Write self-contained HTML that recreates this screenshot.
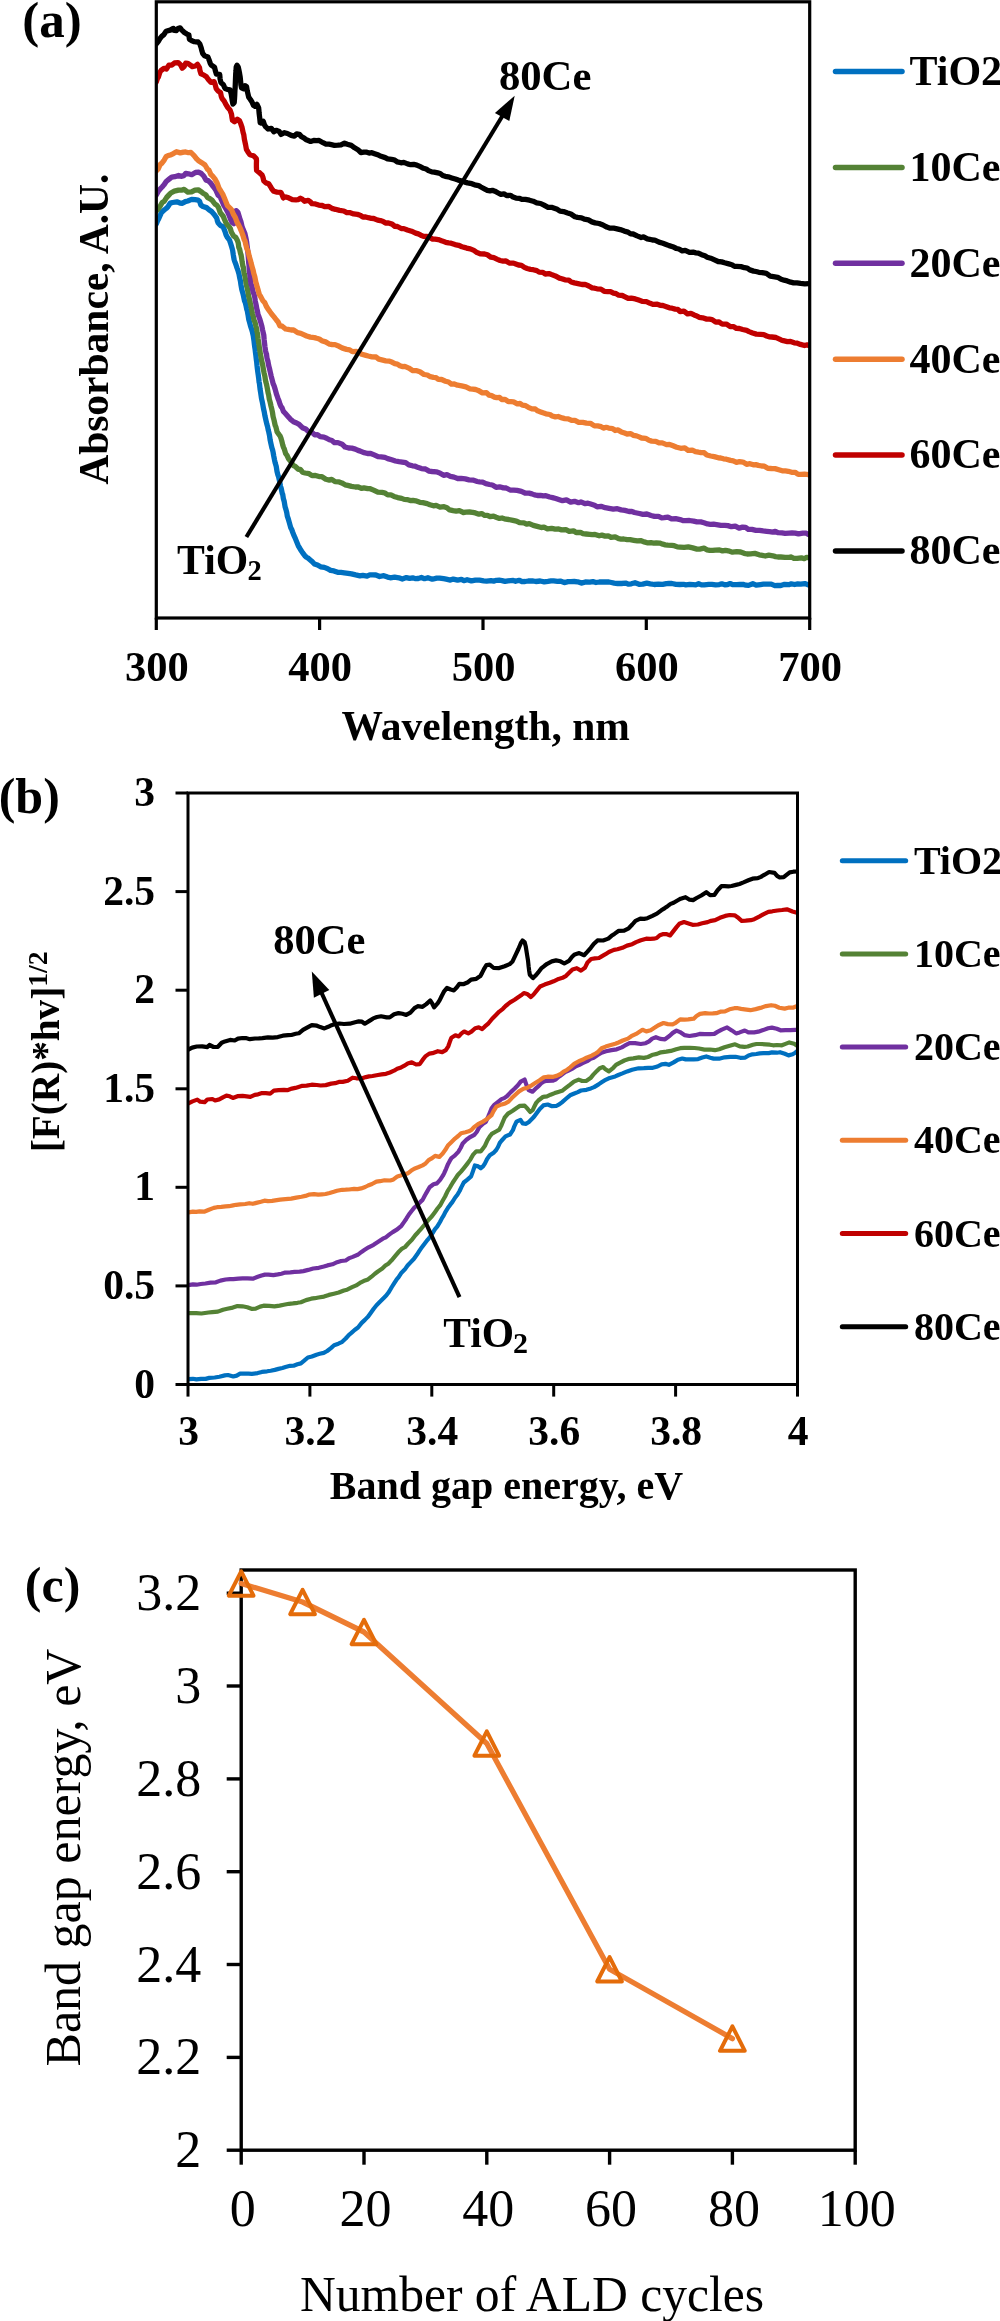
<!DOCTYPE html>
<html><head><meta charset="utf-8"><title>Figure</title>
<style>html,body{margin:0;padding:0;background:#fff;}body{width:1000px;height:2321px;overflow:hidden;font-family:"Liberation Serif",serif;}svg{display:block;will-change:transform;}</style>
</head><body>
<svg width="1000" height="2321" viewBox="0 0 1000 2321">
<rect width="1000" height="2321" fill="#fff"/>
<defs><clipPath id="ca"><rect x="156.3" y="1.8" width="653.4" height="616"/></clipPath><clipPath id="cb"><rect x="188" y="793" width="609.5" height="591.5"/></clipPath></defs>
<g id="pa">
<g clip-path="url(#ca)">
<path d="M156.3 224.0 L157.7 220.6 L158.7 218.7 L159.8 216.2 L161.4 212.6 L163.9 210.3 L166.4 208.3 L167.8 206.9 L170.2 203.1 L172.6 202.5 L176.9 201.8 L180.0 203.0 L182.4 203.3 L185.3 201.6 L187.8 201.0 L191.6 199.4 L195.1 199.7 L198.1 200.2 L199.6 201.3 L200.8 205.0 L203.0 206.5 L206.5 207.6 L209.0 209.7 L211.6 211.5 L214.2 214.4 L216.7 218.0 L217.5 221.3 L218.1 222.8 L220.3 225.4 L223.2 226.9 L225.0 231.4 L226.1 235.0 L227.4 237.4 L229.5 240.1 L230.7 243.7 L231.8 247.2 L232.6 250.1 L233.3 254.9 L234.1 259.5 L234.8 261.6 L235.9 264.5 L237.0 267.9 L237.9 270.2 L239.0 274.1 L239.6 277.4 L240.4 280.9 L241.0 285.0 L241.8 289.6 L242.7 292.7 L243.5 295.9 L244.6 301.1 L245.2 302.3 L245.9 305.1 L246.7 309.1 L247.3 310.8 L248.0 314.7 L248.7 319.2 L249.5 322.1 L250.5 325.9 L251.4 328.6 L252.5 332.3 L253.2 335.4 L253.6 338.1 L254.1 341.6 L254.4 344.4 L254.8 347.3 L255.1 349.2 L255.4 352.0 L255.8 355.0 L256.4 360.2 L256.7 362.2 L257.0 365.5 L257.4 368.9 L257.9 372.6 L258.3 375.3 L258.7 378.3 L259.1 382.1 L259.4 383.3 L260.0 388.5 L260.4 391.2 L260.8 393.6 L261.5 398.5 L262.1 401.1 L262.7 404.1 L263.5 408.6 L264.3 412.1 L264.9 415.7 L265.9 420.1 L266.8 424.0 L267.6 426.7 L268.3 430.3 L268.8 432.1 L269.5 435.4 L270.2 440.3 L270.9 443.5 L271.9 447.9 L272.5 449.6 L273.1 452.3 L273.7 455.8 L274.6 460.3 L275.3 463.3 L276.2 466.2 L277.0 471.3 L277.9 474.9 L278.7 477.1 L279.6 481.3 L280.5 486.3 L281.2 488.4 L282.2 493.2 L282.8 494.8 L283.4 498.8 L284.2 501.4 L285.1 506.9 L285.9 509.3 L286.7 512.4 L287.3 516.2 L288.3 519.0 L289.4 522.9 L290.7 527.6 L291.6 529.2 L292.6 532.0 L293.9 535.4 L295.2 538.1 L296.9 542.4 L298.3 545.8 L300.3 549.2 L302.7 552.9 L304.8 555.7 L306.5 557.3 L308.5 558.4 L311.7 561.2 L314.4 564.0 L317.5 565.0 L320.6 566.8 L324.4 567.4 L327.7 568.7 L330.6 570.4 L333.9 570.9 L337.7 572.3 L341.0 572.4 L344.3 572.8 L348.1 573.3 L351.5 573.9 L355.7 574.9 L359.9 575.8 L362.8 575.3 L367.1 576.1 L369.7 574.9 L373.0 574.9 L375.9 575.0 L379.6 576.5 L383.8 575.7 L387.6 577.1 L390.3 577.8 L394.6 577.1 L398.9 577.8 L402.3 579.0 L406.4 577.6 L409.6 578.3 L412.7 577.8 L415.7 578.7 L418.2 578.5 L421.4 577.5 L424.5 578.7 L427.9 577.7 L432.3 579.2 L436.7 578.1 L439.6 578.1 L443.5 578.7 L446.2 579.2 L450.4 580.1 L453.3 579.1 L457.6 580.1 L461.4 579.4 L463.9 580.7 L467.1 579.7 L471.4 580.9 L475.4 580.1 L479.5 580.2 L483.7 580.9 L486.7 581.1 L491.0 580.6 L493.7 581.1 L496.5 580.3 L499.2 580.2 L502.0 580.6 L505.0 581.4 L508.0 580.9 L510.7 580.6 L513.2 580.4 L515.6 581.3 L519.1 580.3 L522.4 581.7 L525.0 581.5 L528.3 581.0 L532.4 580.9 L535.8 581.5 L540.2 581.0 L544.2 581.8 L547.9 581.3 L551.0 580.8 L553.6 580.9 L557.5 581.3 L560.2 581.1 L564.3 582.6 L568.1 581.7 L571.0 581.7 L574.3 581.5 L577.6 581.8 L581.9 583.1 L585.4 581.9 L589.8 582.1 L592.9 581.6 L596.0 582.5 L599.4 582.0 L602.8 581.8 L605.7 582.0 L608.9 582.0 L611.4 582.5 L614.2 583.1 L617.7 583.5 L621.4 583.5 L625.6 583.1 L628.6 584.2 L631.3 583.8 L635.0 582.7 L639.1 584.3 L642.7 584.1 L646.8 583.1 L650.2 583.8 L654.3 584.5 L658.4 584.1 L662.6 584.4 L666.4 583.6 L668.8 583.5 L671.9 583.5 L676.0 584.4 L679.7 584.5 L683.4 584.3 L685.8 584.9 L689.7 584.4 L693.2 584.7 L695.7 584.9 L698.6 583.7 L701.5 584.9 L704.3 584.9 L708.7 584.4 L711.9 584.4 L715.6 584.9 L719.3 584.6 L721.8 583.8 L724.7 584.8 L727.7 584.5 L730.1 583.6 L733.0 584.7 L736.8 584.7 L739.8 584.5 L743.1 584.4 L745.8 585.2 L748.5 585.4 L752.8 583.7 L756.1 585.2 L760.5 584.6 L763.4 584.2 L767.7 584.2 L771.3 584.1 L774.8 585.6 L777.4 585.4 L780.8 585.5 L784.6 584.3 L788.8 584.7 L791.3 583.8 L794.7 584.5 L797.7 583.9 L800.7 584.2 L804.8 583.6 L808.7 585.0 L809.5 584.4" fill="none" stroke="#0070C0" stroke-width="5.3" stroke-linejoin="round" stroke-linecap="round"/>
<path d="M156.3 211.0 L158.2 209.0 L160.4 205.8 L162.2 202.5 L164.3 201.2 L166.7 197.4 L169.0 194.9 L170.8 193.0 L174.3 191.2 L178.5 190.2 L181.4 190.2 L184.1 189.4 L187.8 192.1 L191.5 191.9 L195.0 190.1 L198.3 189.8 L200.4 191.2 L203.0 193.2 L205.8 194.8 L207.6 197.6 L209.6 198.5 L212.0 200.2 L214.9 204.0 L217.0 205.4 L218.6 207.8 L219.4 210.1 L220.3 212.8 L223.2 216.3 L224.5 219.5 L226.0 222.8 L227.2 224.7 L229.1 226.7 L230.4 228.7 L231.3 232.0 L233.5 235.8 L235.8 237.5 L237.4 240.5 L238.2 242.9 L238.8 247.4 L239.6 249.1 L240.5 253.3 L241.1 255.0 L241.6 258.0 L242.2 262.3 L242.9 266.2 L243.3 267.0 L244.0 272.4 L244.7 275.1 L245.1 277.1 L245.9 282.0 L246.7 286.4 L247.2 287.6 L247.8 291.0 L248.5 295.5 L249.3 298.7 L250.0 302.2 L250.7 304.9 L251.6 309.2 L252.5 314.1 L253.2 316.1 L253.9 319.8 L255.1 322.5 L255.8 325.6 L256.6 328.8 L257.1 332.0 L257.5 333.8 L258.0 338.3 L258.5 341.8 L258.9 344.0 L259.4 348.1 L259.9 350.7 L260.3 353.5 L261.0 357.0 L261.5 360.3 L262.4 363.7 L262.9 366.3 L263.5 370.1 L264.1 373.1 L264.9 376.3 L265.4 379.9 L266.0 382.6 L266.5 384.3 L267.3 388.3 L268.1 392.9 L268.7 395.1 L269.3 399.1 L270.2 402.4 L270.9 405.6 L271.9 409.7 L272.4 412.0 L273.1 416.6 L274.1 420.4 L275.1 425.1 L275.8 426.7 L277.1 431.8 L278.3 433.7 L280.0 435.8 L281.0 438.3 L281.7 440.7 L282.7 444.9 L283.5 447.4 L284.3 449.0 L285.7 453.7 L287.0 455.3 L288.6 458.8 L291.1 461.9 L293.2 465.5 L295.0 466.2 L298.3 469.3 L300.3 469.3 L302.5 472.2 L305.2 473.0 L309.1 473.7 L312.0 475.6 L315.4 475.4 L319.1 476.6 L322.0 476.7 L325.8 479.2 L329.4 480.1 L331.7 479.4 L335.0 481.7 L339.1 481.9 L341.8 482.9 L345.1 484.8 L347.7 485.4 L351.5 486.4 L355.3 487.0 L358.3 487.0 L361.4 488.4 L363.9 487.8 L367.7 488.6 L370.2 488.7 L373.6 490.1 L377.8 492.2 L382.0 492.4 L384.5 492.8 L387.7 494.9 L390.9 494.9 L394.0 496.4 L397.7 497.6 L401.6 498.4 L404.2 499.4 L407.1 499.6 L410.2 500.6 L412.9 500.3 L415.7 500.8 L419.8 502.3 L422.8 502.6 L427.1 503.6 L429.9 504.7 L433.5 505.8 L436.1 505.4 L440.0 507.1 L444.1 506.7 L447.0 507.7 L449.6 509.9 L453.1 510.7 L456.2 511.2 L459.4 510.7 L463.4 512.5 L465.9 512.2 L469.5 512.0 L472.6 512.3 L475.4 512.9 L479.0 514.2 L481.7 513.6 L484.7 515.4 L487.4 515.3 L490.1 516.7 L493.6 516.1 L496.1 517.2 L499.5 518.4 L502.0 518.0 L505.8 519.2 L508.7 519.5 L512.9 520.4 L516.4 521.1 L519.6 522.7 L523.9 522.8 L526.6 524.1 L529.3 523.6 L533.3 525.4 L537.2 526.4 L541.3 527.5 L544.0 527.2 L547.4 528.9 L551.6 528.3 L555.3 529.1 L558.7 529.0 L561.6 529.9 L565.9 529.6 L569.2 531.3 L573.5 530.8 L576.1 532.5 L580.5 532.4 L582.9 533.6 L586.1 534.0 L589.7 534.4 L592.3 534.7 L595.1 534.4 L599.2 535.8 L601.9 535.1 L605.1 536.1 L608.2 535.8 L611.1 537.4 L615.2 536.8 L618.7 538.6 L621.2 539.1 L623.7 539.0 L627.2 539.6 L630.2 539.7 L633.7 540.3 L637.4 540.9 L640.6 540.6 L644.2 541.9 L647.1 542.8 L651.0 542.7 L653.7 543.1 L656.3 542.8 L659.6 543.1 L662.8 544.2 L665.3 544.8 L667.8 545.2 L671.7 545.4 L674.2 545.7 L677.3 546.9 L679.9 547.1 L684.3 547.4 L688.3 546.9 L692.7 547.9 L697.0 549.1 L699.7 549.1 L704.0 548.2 L707.1 549.8 L709.7 550.3 L712.7 550.4 L715.3 550.1 L719.6 550.0 L722.5 550.9 L725.5 550.3 L728.2 550.8 L732.5 552.2 L736.7 551.7 L740.6 552.0 L744.1 553.3 L747.2 554.0 L750.7 553.8 L754.8 553.4 L759.2 554.8 L762.4 555.4 L765.3 556.0 L768.8 555.2 L772.8 555.8 L775.5 556.6 L777.9 557.0 L780.8 557.0 L785.2 557.3 L788.9 557.3 L791.3 557.0 L793.9 558.3 L797.2 558.4 L801.4 557.8 L804.2 558.7 L806.7 557.3 L809.5 558.0" fill="none" stroke="#548235" stroke-width="5.3" stroke-linejoin="round" stroke-linecap="round"/>
<path d="M156.3 195.0 L158.2 191.5 L160.0 189.1 L162.1 187.0 L163.9 184.9 L166.2 181.5 L169.4 178.9 L171.7 177.1 L174.8 176.7 L178.6 175.5 L181.0 176.3 L183.9 175.6 L185.7 173.3 L188.5 173.8 L191.7 174.7 L195.4 172.5 L198.6 172.2 L200.9 173.2 L203.7 176.0 L206.1 180.1 L208.1 180.6 L211.0 183.4 L213.3 186.7 L214.6 188.3 L216.0 190.4 L218.2 195.3 L220.3 197.1 L222.4 202.0 L223.7 205.0 L225.0 207.1 L226.3 209.4 L227.5 211.7 L229.3 215.8 L230.8 219.7 L232.0 222.1 L234.0 223.7 L234.8 219.4 L235.3 217.0 L235.7 214.1 L236.2 210.6 L237.9 212.4 L239.2 216.5 L240.1 219.7 L240.9 221.5 L242.0 226.3 L243.3 229.9 L244.9 233.6 L245.9 238.0 L246.6 241.6 L247.1 245.7 L247.4 248.0 L247.8 251.4 L248.2 255.7 L248.4 258.1 L248.7 262.8 L249.0 264.9 L249.2 268.5 L249.5 272.2 L249.9 274.9 L250.4 279.0 L251.0 283.8 L252.0 286.5 L253.1 292.1 L254.2 294.8 L254.8 297.5 L255.3 301.2 L256.1 304.8 L256.8 308.8 L257.4 310.8 L258.0 314.5 L258.8 316.4 L259.7 318.9 L260.7 322.1 L261.8 326.0 L262.6 330.0 L263.3 333.1 L263.8 335.2 L264.1 339.2 L264.5 342.9 L265.0 347.1 L265.5 350.4 L266.0 352.9 L266.5 354.1 L267.0 358.2 L267.9 361.1 L268.6 365.3 L269.5 368.6 L270.3 372.2 L271.2 376.1 L272.3 380.3 L273.1 383.7 L274.1 385.9 L275.2 389.4 L276.5 394.2 L277.8 397.9 L278.8 400.4 L280.0 404.2 L281.0 406.6 L282.0 407.6 L283.4 411.4 L285.2 413.3 L287.8 416.3 L290.3 419.1 L293.5 421.7 L296.6 423.0 L299.1 424.4 L302.4 427.7 L305.7 429.0 L308.5 431.7 L311.7 432.1 L314.7 434.8 L317.4 434.6 L320.2 436.6 L324.0 437.1 L326.6 438.2 L329.4 439.8 L331.9 440.5 L334.5 442.7 L338.0 442.6 L342.1 444.2 L345.0 447.0 L348.7 448.0 L351.8 448.1 L355.3 449.1 L358.0 450.4 L360.3 451.1 L364.2 452.7 L367.5 453.5 L370.7 453.5 L374.2 454.9 L378.0 456.7 L381.1 456.8 L384.9 457.4 L387.7 458.6 L391.7 459.8 L395.4 461.0 L399.0 461.7 L402.2 462.1 L405.7 462.7 L408.8 464.9 L412.4 465.8 L415.2 466.2 L418.4 467.6 L421.4 468.6 L425.5 469.0 L429.1 471.1 L432.1 471.5 L436.3 471.8 L439.7 472.9 L443.6 475.3 L446.9 474.6 L450.4 476.3 L454.1 477.1 L457.7 478.5 L461.1 478.4 L465.3 478.9 L469.0 479.9 L472.9 480.1 L477.2 481.5 L479.6 481.9 L482.7 482.2 L485.8 483.7 L489.5 484.5 L492.4 485.0 L496.1 487.3 L499.5 486.8 L503.4 487.9 L506.2 488.0 L510.1 490.0 L513.7 490.1 L517.1 490.4 L521.4 491.4 L525.0 493.0 L529.0 493.1 L531.9 493.9 L534.5 494.9 L537.5 495.5 L540.4 495.3 L543.2 495.9 L545.9 495.7 L549.7 497.0 L552.5 497.6 L555.8 498.5 L559.4 499.7 L562.5 500.7 L566.5 499.9 L570.6 502.1 L574.5 501.3 L578.5 502.7 L580.9 501.9 L585.2 503.7 L588.0 503.2 L590.7 504.0 L594.5 505.2 L597.1 506.8 L601.0 506.3 L605.2 507.7 L609.1 508.4 L613.3 509.2 L617.3 508.7 L621.1 509.9 L624.9 510.4 L629.0 511.5 L631.9 511.5 L634.5 512.5 L636.9 513.0 L639.5 513.5 L642.9 514.3 L646.9 514.0 L651.0 515.5 L654.5 516.4 L658.5 516.4 L661.7 517.9 L664.2 517.7 L667.9 517.1 L671.5 518.8 L675.7 518.7 L680.1 519.6 L683.4 520.7 L685.8 520.7 L689.5 520.5 L693.6 521.1 L696.9 521.9 L700.8 521.9 L704.0 522.7 L707.5 523.9 L710.4 524.3 L713.6 524.2 L716.5 524.6 L720.9 525.4 L724.8 525.3 L727.8 525.6 L731.4 526.7 L735.3 526.1 L739.1 528.1 L742.6 527.1 L745.6 527.4 L748.3 529.4 L751.9 529.4 L755.9 530.4 L759.5 530.3 L763.1 530.9 L766.7 531.3 L769.5 531.6 L772.8 532.1 L775.3 531.4 L777.8 532.7 L782.0 532.8 L785.1 533.3 L789.1 533.1 L792.0 532.9 L795.2 533.1 L798.5 533.9 L802.8 533.1 L806.3 533.2 L808.9 534.7 L809.5 534.2" fill="none" stroke="#7030A0" stroke-width="5.3" stroke-linejoin="round" stroke-linecap="round"/>
<path d="M156.3 171.0 L158.2 169.0 L160.1 164.6 L161.9 163.1 L164.2 160.1 L166.2 156.4 L168.4 155.6 L171.2 154.7 L173.4 153.6 L176.5 151.7 L180.3 152.9 L183.6 152.1 L185.7 152.0 L188.5 152.7 L191.0 152.5 L194.3 155.8 L196.8 159.1 L198.6 160.7 L201.7 162.7 L205.0 165.0 L207.6 169.3 L208.9 170.0 L210.9 174.6 L212.3 175.8 L214.7 178.6 L216.9 182.6 L217.8 184.8 L219.0 188.2 L220.8 191.0 L223.0 194.7 L224.6 198.6 L225.7 201.2 L227.5 205.7 L230.0 208.1 L231.5 209.7 L233.6 214.7 L235.4 217.7 L237.0 222.1 L238.7 225.1 L239.9 227.6 L241.5 231.4 L242.9 235.3 L244.2 239.7 L245.0 241.0 L245.8 244.6 L246.8 248.7 L248.1 251.4 L249.3 256.6 L250.4 260.2 L251.2 263.5 L252.2 267.1 L253.2 270.6 L253.8 273.5 L254.8 276.7 L255.8 281.9 L256.4 284.0 L257.3 287.4 L258.1 289.8 L259.3 294.5 L260.5 296.3 L262.9 300.7 L264.7 302.6 L266.6 306.8 L268.2 309.2 L270.0 311.8 L271.6 314.0 L274.2 317.1 L276.4 320.0 L278.3 322.3 L279.9 325.8 L282.2 326.2 L285.6 329.0 L288.2 329.4 L291.1 330.0 L293.5 329.8 L297.6 332.7 L300.8 333.3 L303.6 334.6 L306.6 336.0 L310.3 337.1 L314.4 337.6 L316.7 338.3 L319.3 339.0 L321.7 340.7 L325.6 341.9 L329.6 344.2 L332.0 344.5 L335.0 344.6 L339.1 346.3 L342.5 348.1 L346.6 349.4 L349.7 349.9 L352.3 351.6 L356.5 351.5 L358.9 352.2 L361.8 354.3 L365.9 355.4 L368.3 356.0 L371.9 356.8 L376.1 357.0 L378.7 359.1 L382.8 360.1 L385.7 360.8 L389.4 361.1 L392.3 362.3 L394.8 363.6 L397.4 364.1 L399.9 365.8 L402.2 366.6 L404.8 366.3 L408.8 368.1 L412.9 370.7 L416.8 370.7 L419.9 371.7 L424.0 374.5 L427.4 375.0 L430.3 376.7 L433.5 377.4 L436.0 377.6 L438.3 379.3 L441.6 379.5 L445.5 381.2 L448.6 382.0 L451.4 384.2 L454.3 384.0 L457.5 385.2 L461.6 385.9 L465.9 386.8 L470.0 388.8 L472.7 389.1 L475.6 389.5 L478.2 390.4 L482.4 392.9 L486.5 392.7 L489.2 395.2 L491.6 395.7 L494.4 397.2 L496.7 397.7 L499.6 397.5 L501.8 399.5 L505.1 399.3 L508.3 401.6 L511.0 401.7 L513.6 401.8 L517.3 403.8 L520.0 403.5 L522.4 405.2 L525.7 405.7 L528.3 407.3 L531.9 408.9 L535.3 409.0 L537.6 410.8 L540.6 411.9 L543.0 412.8 L545.9 413.8 L549.9 414.5 L552.2 416.0 L555.4 416.9 L558.2 416.5 L562.1 417.9 L564.7 418.6 L568.2 418.8 L571.6 420.4 L574.9 420.4 L578.7 422.4 L582.8 422.3 L586.5 423.1 L590.4 423.3 L594.4 425.9 L597.7 425.9 L601.1 426.7 L603.4 428.1 L606.2 427.3 L608.7 428.1 L612.6 428.6 L615.1 430.5 L617.8 429.9 L621.3 431.9 L624.6 433.0 L627.1 434.0 L630.8 433.7 L633.3 435.3 L636.5 435.9 L639.1 436.9 L641.6 438.0 L645.6 438.3 L649.0 440.3 L651.7 441.1 L655.8 441.3 L659.0 442.9 L662.3 442.9 L666.5 444.6 L669.5 444.4 L672.5 445.5 L676.7 447.2 L680.8 448.3 L684.8 447.9 L688.1 450.4 L692.3 450.1 L695.4 451.6 L698.5 452.2 L700.9 452.6 L704.2 452.7 L706.8 455.0 L710.7 456.0 L714.2 456.6 L718.3 457.8 L720.6 458.0 L723.5 458.8 L726.3 459.2 L730.5 460.4 L733.3 460.8 L736.5 462.3 L739.4 461.7 L743.0 462.1 L746.6 464.3 L749.9 463.7 L753.2 464.8 L755.8 464.6 L758.4 465.4 L761.6 466.0 L764.4 466.2 L767.8 468.3 L771.4 468.5 L775.0 468.6 L778.8 469.8 L782.2 470.8 L785.4 470.9 L788.3 471.3 L791.6 472.3 L795.1 472.3 L798.2 474.4 L801.0 474.3 L804.4 474.2 L808.7 474.7 L809.5 475.2" fill="none" stroke="#ED7D31" stroke-width="5.3" stroke-linejoin="round" stroke-linecap="round"/>
<path d="M156.3 82.0 L157.5 78.2 L158.4 77.1 L159.7 72.7 L161.0 70.5 L164.2 68.3 L166.4 69.1 L168.9 65.1 L171.9 65.1 L174.5 62.9 L178.1 62.6 L180.5 64.7 L182.2 68.2 L184.1 66.5 L185.7 63.2 L187.9 63.3 L189.7 64.6 L192.3 66.6 L195.5 66.0 L197.5 64.4 L199.5 67.6 L199.9 70.4 L201.0 73.9 L203.5 74.9 L206.4 76.8 L208.5 79.7 L211.0 82.3 L214.1 81.7 L215.1 84.4 L216.2 88.6 L218.0 90.9 L220.5 92.4 L221.3 96.6 L222.0 98.3 L224.2 101.1 L225.7 104.1 L227.8 107.5 L230.0 110.0 L231.5 114.1 L232.0 117.8 L232.5 120.4 L234.5 121.7 L237.3 119.2 L239.5 120.7 L240.9 124.1 L242.1 127.7 L243.1 132.5 L243.8 134.8 L244.4 139.4 L244.9 141.6 L245.6 144.9 L246.4 149.3 L248.1 152.2 L249.9 154.7 L253.4 155.7 L256.3 158.6 L256.5 160.5 L256.4 164.1 L256.4 167.0 L256.6 170.5 L259.0 172.3 L262.2 175.3 L262.9 177.2 L263.8 180.9 L265.9 182.9 L268.8 183.8 L270.5 186.6 L271.7 188.8 L273.7 191.2 L277.0 192.1 L280.8 192.3 L282.0 194.5 L283.3 197.9 L285.9 196.9 L288.6 197.8 L292.3 199.6 L296.1 199.8 L298.0 199.7 L300.4 198.2 L302.5 199.4 L304.6 201.3 L308.1 200.4 L310.3 201.7 L312.0 203.7 L315.3 203.9 L318.7 205.1 L322.2 205.5 L324.6 206.6 L328.6 206.4 L332.6 208.7 L335.4 209.3 L339.6 210.4 L343.8 211.0 L346.8 212.6 L349.6 212.6 L353.6 213.9 L357.5 214.4 L360.2 215.2 L362.9 217.0 L365.7 217.0 L368.3 217.7 L371.3 218.3 L373.7 218.5 L377.6 220.1 L380.4 220.6 L383.2 221.5 L385.5 223.0 L388.5 223.0 L392.1 224.1 L394.9 226.4 L397.4 226.5 L401.2 228.5 L403.8 228.6 L407.4 230.0 L411.5 231.2 L415.6 233.1 L418.3 233.9 L420.8 235.2 L423.6 236.4 L427.0 236.5 L429.8 237.7 L432.5 239.0 L435.0 239.1 L438.3 239.6 L442.1 240.9 L445.7 242.3 L448.6 242.9 L451.0 243.2 L455.0 244.6 L458.6 245.3 L461.9 246.7 L465.2 247.6 L467.6 248.4 L470.3 248.9 L473.9 250.4 L477.0 252.6 L480.7 253.9 L484.6 254.0 L487.4 254.8 L490.9 257.2 L493.8 257.7 L497.4 259.4 L500.1 260.5 L503.1 261.1 L505.7 260.9 L509.8 263.2 L513.5 263.1 L515.8 264.0 L518.5 265.0 L521.5 265.4 L524.4 267.4 L527.1 268.5 L530.5 269.3 L533.2 269.7 L536.8 270.6 L539.1 272.1 L542.9 272.3 L545.3 274.0 L548.8 273.6 L551.5 274.6 L555.3 275.9 L559.4 278.1 L561.8 278.7 L564.9 279.8 L568.8 280.1 L571.2 282.0 L574.4 282.9 L578.0 283.6 L581.9 284.5 L585.1 284.3 L588.8 286.0 L592.1 287.8 L594.6 288.2 L597.0 288.8 L600.9 289.1 L604.2 291.3 L607.8 291.6 L610.5 291.6 L613.5 293.1 L616.2 293.7 L618.7 295.2 L622.3 295.5 L625.1 296.8 L628.2 298.4 L631.2 298.1 L635.3 298.9 L638.7 300.1 L642.6 301.4 L646.4 301.6 L650.1 303.3 L653.3 304.4 L657.3 304.2 L660.1 305.3 L662.9 305.5 L665.7 306.4 L669.4 307.8 L672.0 308.2 L675.2 309.1 L677.8 309.3 L680.1 311.7 L683.9 311.1 L687.5 313.9 L690.9 313.3 L694.1 314.9 L696.8 315.9 L699.1 317.3 L702.6 317.8 L706.7 319.1 L709.5 319.2 L712.1 319.6 L715.8 322.2 L718.7 321.8 L722.2 324.1 L726.3 324.1 L730.1 326.5 L733.8 326.7 L736.5 328.4 L739.4 328.5 L742.7 329.5 L746.7 330.4 L749.0 331.6 L752.6 333.0 L756.3 334.1 L760.5 334.4 L763.8 334.6 L766.7 336.0 L769.1 336.8 L771.8 337.0 L776.0 337.5 L778.4 338.7 L781.1 339.9 L783.4 340.7 L787.4 341.6 L790.5 341.5 L794.2 342.8 L797.3 343.2 L800.5 344.4 L804.5 345.5 L807.2 344.9 L809.5 345.6" fill="none" stroke="#C00000" stroke-width="5.3" stroke-linejoin="round" stroke-linecap="round"/>
<path d="M156.3 44.0 L158.3 41.4 L160.2 38.2 L161.7 36.4 L163.6 34.9 L166.1 31.3 L170.2 30.1 L173.3 28.4 L174.4 30.4 L176.4 30.6 L177.8 28.5 L180.1 27.9 L181.6 29.9 L184.4 32.5 L186.9 34.1 L188.9 35.0 L189.4 39.2 L191.9 40.8 L194.3 41.7 L195.8 41.8 L198.1 42.0 L199.7 43.7 L201.2 47.8 L201.9 50.8 L202.7 53.5 L204.6 55.8 L207.9 57.0 L209.4 60.7 L210.1 62.9 L211.2 65.0 L214.5 67.2 L215.5 71.3 L216.4 74.1 L219.7 74.4 L220.1 79.0 L220.9 82.5 L223.4 84.7 L224.4 87.1 L225.2 88.5 L227.3 89.4 L230.0 89.8 L231.1 93.4 L231.7 97.0 L232.2 100.5 L232.9 104.1 L234.2 102.5 L234.5 99.0 L234.7 95.7 L234.9 90.6 L235.1 88.6 L235.3 84.2 L235.4 81.5 L235.5 78.9 L235.7 74.1 L236.0 70.8 L236.2 67.1 L237.0 65.2 L238.3 67.2 L238.8 69.5 L239.6 73.6 L240.2 77.2 L240.6 81.2 L240.9 84.7 L241.5 87.8 L243.7 88.8 L245.0 85.7 L246.5 86.5 L247.3 91.1 L247.6 92.4 L248.7 97.2 L250.4 99.5 L252.1 102.2 L253.4 105.2 L255.0 106.3 L256.9 104.3 L258.6 107.6 L258.8 109.3 L259.1 112.9 L259.5 116.3 L259.8 118.7 L260.2 122.8 L261.3 123.1 L263.3 121.4 L264.5 125.0 L265.8 126.9 L268.1 129.0 L271.3 128.3 L273.8 131.8 L276.1 130.3 L279.3 131.5 L281.0 134.4 L284.5 132.7 L287.4 133.5 L291.2 135.4 L294.4 136.2 L296.6 133.9 L299.4 134.4 L301.4 136.6 L303.8 137.8 L306.4 139.8 L310.6 141.4 L313.7 140.4 L316.5 140.7 L319.1 140.5 L323.0 142.7 L326.0 144.2 L328.9 144.2 L331.4 144.7 L334.4 145.3 L337.9 145.2 L341.0 144.8 L344.5 143.1 L347.3 144.3 L351.3 145.4 L354.6 147.8 L357.9 149.7 L360.9 152.7 L363.7 152.2 L366.1 152.1 L369.1 153.1 L371.9 152.7 L374.6 153.7 L378.5 155.1 L381.1 156.3 L385.2 157.6 L387.6 158.9 L391.5 159.4 L394.1 159.8 L397.4 161.9 L401.0 162.8 L403.8 162.4 L407.6 163.9 L410.7 164.7 L413.7 164.3 L416.8 165.1 L420.3 166.7 L423.5 168.3 L426.2 169.0 L428.5 170.6 L431.8 171.9 L434.1 172.1 L437.8 172.9 L440.2 173.5 L442.7 175.5 L445.2 176.3 L448.3 176.8 L451.7 177.9 L455.3 179.0 L458.2 180.1 L461.0 180.8 L464.8 182.1 L467.6 182.9 L471.8 183.7 L474.6 184.8 L478.6 185.6 L480.9 187.0 L484.4 188.8 L487.3 190.3 L490.0 190.8 L492.4 190.3 L494.9 191.2 L498.2 193.0 L500.9 194.4 L503.9 193.8 L506.6 195.5 L510.7 195.4 L513.1 197.1 L515.9 198.1 L519.2 198.3 L522.2 199.4 L525.4 199.4 L529.4 200.2 L533.1 201.2 L536.7 202.9 L540.6 203.5 L544.0 205.2 L548.1 207.4 L551.5 207.3 L554.3 208.3 L557.3 209.3 L560.0 211.2 L563.5 211.6 L567.6 213.0 L570.9 214.0 L574.9 216.7 L577.6 217.4 L581.5 217.8 L584.4 219.2 L588.4 219.9 L591.9 221.9 L595.1 222.9 L599.1 223.5 L603.0 225.0 L606.8 227.1 L609.5 228.0 L613.7 228.2 L616.0 228.6 L620.2 229.6 L624.3 231.1 L628.0 232.1 L630.6 233.9 L633.1 234.0 L637.1 235.9 L641.2 237.5 L643.5 236.9 L647.3 238.9 L649.7 239.3 L652.4 240.0 L654.8 240.1 L659.0 242.1 L662.9 243.2 L666.1 244.4 L669.1 245.6 L672.7 246.7 L676.4 248.5 L678.9 249.0 L682.2 250.8 L685.2 250.3 L689.5 252.4 L693.2 252.2 L695.9 252.8 L698.3 253.1 L701.6 254.7 L704.9 255.8 L707.2 257.2 L710.7 258.2 L714.0 259.7 L718.1 261.5 L721.7 261.9 L724.6 262.8 L728.8 263.9 L731.9 264.7 L734.5 266.4 L736.8 266.3 L741.0 266.6 L744.5 267.7 L747.3 268.1 L749.8 269.9 L753.6 271.1 L756.0 271.5 L758.9 272.3 L762.3 272.7 L766.4 273.4 L770.2 276.1 L773.4 276.6 L777.7 277.3 L781.1 279.3 L784.1 280.2 L787.2 280.9 L790.7 282.2 L793.6 282.9 L797.0 282.9 L800.6 283.4 L804.8 283.8 L808.7 283.7 L809.5 283.7" fill="none" stroke="#000000" stroke-width="5.3" stroke-linejoin="round" stroke-linecap="round"/>
</g>
<rect x="156.3" y="1.8" width="653.4" height="616.2" fill="none" stroke="#000" stroke-width="3.2"/>
<line x1="156.3" y1="617.8" x2="156.3" y2="630" stroke="#000" stroke-width="3.2"/>
<text x="156.8" y="680.8" font-family="Liberation Serif, serif" font-weight="bold" font-size="42.5" text-anchor="middle">300</text>
<line x1="319.6" y1="617.8" x2="319.6" y2="630" stroke="#000" stroke-width="3.2"/>
<text x="320.1" y="680.8" font-family="Liberation Serif, serif" font-weight="bold" font-size="42.5" text-anchor="middle">400</text>
<line x1="483.0" y1="617.8" x2="483.0" y2="630" stroke="#000" stroke-width="3.2"/>
<text x="483.5" y="680.8" font-family="Liberation Serif, serif" font-weight="bold" font-size="42.5" text-anchor="middle">500</text>
<line x1="646.3" y1="617.8" x2="646.3" y2="630" stroke="#000" stroke-width="3.2"/>
<text x="646.8" y="680.8" font-family="Liberation Serif, serif" font-weight="bold" font-size="42.5" text-anchor="middle">600</text>
<line x1="809.7" y1="617.8" x2="809.7" y2="630" stroke="#000" stroke-width="3.2"/>
<text x="810.2" y="680.8" font-family="Liberation Serif, serif" font-weight="bold" font-size="42.5" text-anchor="middle">700</text>
<text x="485.7" y="740" font-family="Liberation Serif, serif" font-weight="bold" font-size="41.5" text-anchor="middle">Wavelength, nm</text>
<text transform="translate(107.8 329.2) rotate(-90)" font-family="Liberation Serif, serif" font-weight="bold" font-size="41.5" text-anchor="middle">Absorbance, A.U.</text>
<text x="22.3" y="37.4" font-family="Liberation Serif, serif" font-weight="bold" font-size="51">(a)</text>
<line x1="246.4" y1="537" x2="503" y2="115" stroke="#000" stroke-width="4.1"/>
<polygon points="514.7,95.8 494.9,112.9 509.3,121" fill="#000"/>
<text x="498.9" y="89.8" font-family="Liberation Serif, serif" font-weight="bold" font-size="42.7">80Ce</text>
<text x="177.1" y="573.8" font-family="Liberation Serif, serif" font-weight="bold" font-size="41.7">TiO</text>
<text x="247.6" y="579.8" font-family="Liberation Serif, serif" font-weight="bold" font-size="28.5">2</text>
<line x1="835.5" y1="71.5" x2="902" y2="71.5" stroke="#0070C0" stroke-width="5.5" stroke-linecap="round"/>
<text x="909.5" y="84.8" font-family="Liberation Serif, serif" font-weight="bold" font-size="42">TiO2</text>
<line x1="835.5" y1="167.4" x2="902" y2="167.4" stroke="#548235" stroke-width="5.5" stroke-linecap="round"/>
<text x="909.5" y="180.7" font-family="Liberation Serif, serif" font-weight="bold" font-size="42">10Ce</text>
<line x1="835.5" y1="263.3" x2="902" y2="263.3" stroke="#7030A0" stroke-width="5.5" stroke-linecap="round"/>
<text x="909.5" y="276.6" font-family="Liberation Serif, serif" font-weight="bold" font-size="42">20Ce</text>
<line x1="835.5" y1="359.2" x2="902" y2="359.2" stroke="#ED7D31" stroke-width="5.5" stroke-linecap="round"/>
<text x="909.5" y="372.5" font-family="Liberation Serif, serif" font-weight="bold" font-size="42">40Ce</text>
<line x1="835.5" y1="455.1" x2="902" y2="455.1" stroke="#C00000" stroke-width="5.5" stroke-linecap="round"/>
<text x="909.5" y="468.4" font-family="Liberation Serif, serif" font-weight="bold" font-size="42">60Ce</text>
<line x1="835.5" y1="551.0" x2="902" y2="551.0" stroke="#000000" stroke-width="5.5" stroke-linecap="round"/>
<text x="909.5" y="564.3" font-family="Liberation Serif, serif" font-weight="bold" font-size="42">80Ce</text>
</g>
<g id="pb">
<g clip-path="url(#cb)">
<path d="M188.4 1379.2 L192.9 1378.8 L196.4 1379.4 L201.0 1378.9 L205.6 1378.9 L209.3 1377.9 L214.7 1377.5 L219.4 1376.7 L224.8 1375.4 L228.0 1375.0 L233.3 1376.5 L236.7 1375.6 L240.1 1373.7 L244.0 1373.5 L248.5 1373.7 L251.9 1373.8 L257.7 1373.1 L261.9 1371.9 L267.1 1371.3 L270.7 1370.7 L274.8 1369.9 L278.5 1368.9 L282.4 1368.0 L285.5 1367.0 L290.1 1365.8 L293.6 1365.7 L297.4 1364.3 L300.9 1363.4 L303.6 1361.2 L307.9 1357.5 L311.9 1356.5 L316.5 1354.7 L319.7 1353.8 L323.7 1352.9 L327.2 1351.0 L330.9 1348.1 L334.1 1345.2 L338.4 1343.7 L341.7 1342.2 L345.7 1338.5 L349.0 1334.8 L351.4 1332.9 L354.6 1330.0 L358.0 1327.5 L361.7 1322.9 L364.9 1319.9 L367.8 1316.9 L370.5 1313.2 L373.7 1308.7 L376.5 1305.2 L380.2 1301.6 L384.0 1297.8 L386.2 1295.6 L388.9 1292.0 L391.8 1287.0 L393.8 1283.8 L396.7 1279.3 L398.6 1277.1 L401.5 1272.7 L404.7 1269.6 L407.6 1265.5 L410.8 1262.1 L413.8 1259.0 L417.0 1254.6 L419.2 1251.2 L421.9 1247.2 L425.3 1242.8 L427.6 1239.8 L429.9 1237.2 L432.6 1233.1 L435.0 1229.1 L437.2 1226.6 L440.0 1222.0 L442.0 1218.1 L443.6 1215.6 L445.5 1211.8 L447.8 1208.1 L450.1 1204.9 L452.3 1202.1 L455.2 1197.5 L457.4 1194.7 L459.6 1191.0 L461.4 1187.1 L463.8 1182.5 L467.4 1179.6 L471.1 1176.4 L473.0 1171.1 L474.9 1165.5 L478.2 1166.4 L480.8 1168.3 L483.2 1166.1 L485.0 1163.3 L487.1 1159.0 L489.8 1155.3 L494.0 1152.4 L496.2 1150.0 L498.0 1147.0 L499.8 1142.9 L501.5 1140.7 L505.5 1136.4 L510.0 1134.5 L512.9 1130.2 L514.3 1126.3 L516.5 1121.7 L520.5 1119.9 L522.7 1123.3 L526.1 1123.8 L528.9 1122.0 L531.8 1119.1 L534.2 1116.5 L537.9 1111.5 L539.8 1108.9 L543.3 1105.4 L547.7 1104.5 L552.0 1106.2 L556.2 1106.0 L559.2 1104.4 L561.9 1102.3 L566.3 1098.5 L570.1 1095.3 L573.7 1093.8 L577.8 1092.1 L581.0 1090.5 L586.4 1089.8 L590.9 1088.4 L594.1 1087.1 L598.6 1084.4 L601.6 1082.3 L604.5 1080.4 L609.8 1077.9 L615.2 1076.4 L618.3 1075.0 L622.4 1073.4 L627.2 1071.4 L632.1 1069.7 L635.3 1069.0 L638.6 1068.3 L643.9 1068.2 L648.3 1067.8 L652.8 1067.8 L657.5 1066.5 L661.6 1064.3 L665.5 1063.9 L668.8 1064.8 L673.6 1062.4 L677.9 1059.7 L682.3 1058.5 L685.7 1059.4 L689.1 1059.4 L693.7 1059.4 L698.1 1059.1 L702.3 1057.6 L706.3 1056.4 L710.3 1057.7 L713.6 1058.6 L719.1 1058.7 L724.6 1057.3 L730.2 1056.9 L735.5 1056.8 L740.3 1057.8 L745.3 1057.6 L748.6 1055.5 L752.5 1054.3 L756.3 1054.0 L759.7 1053.4 L763.5 1053.2 L768.7 1053.1 L772.0 1052.4 L776.8 1052.7 L780.0 1052.2 L784.8 1053.8 L788.5 1055.4 L792.6 1054.3 L795.3 1052.7 L797.5 1050.9" fill="none" stroke="#0070C0" stroke-width="4.2" stroke-linejoin="round" stroke-linecap="round"/>
<path d="M188.4 1313.2 L192.9 1313.2 L196.3 1313.1 L201.4 1313.5 L205.0 1313.0 L208.5 1312.5 L212.2 1312.1 L217.9 1311.6 L223.0 1309.7 L227.3 1308.8 L232.8 1307.6 L237.5 1306.1 L242.4 1306.3 L247.3 1307.2 L252.1 1308.9 L255.6 1308.7 L260.2 1306.6 L263.6 1305.7 L269.2 1305.9 L274.4 1306.4 L279.6 1305.6 L283.8 1304.8 L289.0 1303.8 L292.9 1303.4 L297.5 1302.8 L300.9 1302.2 L306.0 1300.1 L311.2 1298.7 L314.8 1298.2 L318.5 1297.5 L324.0 1296.6 L328.9 1294.9 L333.9 1293.7 L338.7 1292.5 L343.9 1290.5 L347.1 1289.7 L352.1 1287.2 L356.2 1285.4 L361.0 1282.3 L365.0 1280.4 L368.0 1279.4 L371.5 1276.7 L374.9 1273.7 L377.9 1271.5 L382.3 1268.6 L385.4 1265.6 L388.3 1263.7 L391.4 1260.6 L395.1 1256.2 L398.3 1252.3 L402.1 1248.6 L405.1 1247.0 L408.2 1243.5 L411.9 1239.8 L415.3 1235.2 L418.1 1232.2 L421.1 1228.8 L423.5 1226.0 L426.0 1223.0 L428.1 1220.4 L431.9 1216.3 L435.1 1211.9 L437.5 1208.5 L440.1 1205.4 L442.5 1201.0 L445.1 1196.5 L447.5 1191.3 L449.9 1187.5 L452.8 1182.5 L455.4 1178.6 L457.8 1175.0 L461.0 1171.6 L464.1 1167.8 L467.8 1163.1 L470.6 1159.1 L472.9 1154.9 L476.2 1151.4 L480.9 1151.3 L483.0 1148.5 L484.8 1146.1 L487.4 1140.3 L489.7 1136.6 L491.7 1133.9 L496.0 1131.5 L499.3 1129.6 L501.2 1125.9 L502.7 1122.3 L504.6 1117.7 L508.0 1113.6 L512.7 1110.7 L517.0 1107.7 L519.9 1105.9 L524.6 1105.6 L527.0 1108.2 L530.2 1112.0 L532.8 1109.8 L534.5 1106.2 L536.0 1103.2 L538.3 1100.5 L543.2 1096.8 L547.0 1096.3 L550.6 1094.7 L554.7 1093.1 L558.2 1091.9 L562.1 1090.8 L565.5 1088.2 L569.8 1084.9 L573.9 1081.6 L578.7 1079.6 L582.2 1081.0 L586.5 1080.8 L590.5 1078.1 L593.1 1074.9 L596.9 1070.9 L599.7 1068.2 L603.1 1067.1 L605.4 1069.3 L608.9 1071.4 L613.3 1067.8 L616.0 1064.9 L619.7 1062.8 L624.3 1060.5 L629.4 1058.8 L633.3 1058.4 L638.9 1057.4 L643.9 1057.9 L648.0 1057.0 L652.9 1054.7 L656.9 1053.9 L660.9 1052.3 L666.3 1051.6 L670.8 1050.9 L676.2 1049.2 L680.2 1048.2 L684.3 1047.8 L689.8 1047.8 L694.5 1048.0 L699.1 1048.5 L704.5 1049.6 L709.9 1049.5 L714.9 1050.2 L719.2 1049.3 L724.5 1047.3 L729.7 1045.8 L735.1 1044.3 L739.8 1046.4 L744.4 1046.8 L747.7 1046.5 L752.9 1044.8 L756.5 1044.0 L759.9 1044.0 L765.7 1044.3 L769.8 1044.7 L773.1 1045.3 L777.1 1045.0 L781.9 1045.3 L785.5 1043.9 L789.3 1042.4 L794.2 1043.8 L797.5 1046.1" fill="none" stroke="#548235" stroke-width="4.2" stroke-linejoin="round" stroke-linecap="round"/>
<path d="M188.4 1285.1 L192.9 1284.4 L196.6 1284.7 L200.7 1284.0 L205.4 1283.5 L210.6 1282.7 L215.9 1282.3 L220.4 1280.6 L225.6 1279.5 L230.0 1279.2 L233.3 1279.1 L238.4 1278.6 L242.6 1278.4 L247.4 1278.3 L252.8 1278.7 L257.8 1276.8 L261.6 1275.5 L264.9 1274.6 L268.4 1274.6 L273.4 1275.1 L277.8 1274.4 L281.4 1273.7 L285.2 1272.6 L290.3 1272.3 L294.6 1271.9 L299.6 1271.6 L303.4 1271.1 L308.2 1269.9 L313.2 1268.5 L318.8 1267.8 L323.8 1266.5 L327.4 1265.4 L332.5 1264.3 L337.1 1262.2 L341.1 1261.0 L345.7 1260.5 L349.4 1258.1 L352.7 1256.9 L357.7 1254.8 L361.5 1251.9 L364.3 1250.0 L368.6 1247.3 L373.6 1244.8 L378.2 1241.8 L382.8 1238.7 L385.8 1237.3 L389.5 1234.4 L392.7 1232.1 L397.2 1229.4 L401.4 1225.8 L404.0 1222.1 L406.3 1218.7 L409.5 1213.7 L411.4 1211.2 L414.3 1207.6 L416.5 1205.8 L420.4 1201.9 L422.6 1199.9 L425.0 1195.2 L426.8 1192.1 L429.6 1187.2 L433.5 1184.3 L436.9 1183.4 L440.1 1179.9 L442.7 1175.9 L444.3 1172.9 L446.1 1168.8 L448.1 1163.9 L449.6 1161.2 L451.4 1158.2 L454.7 1155.7 L458.3 1151.8 L460.6 1148.0 L462.7 1143.5 L466.4 1139.8 L469.2 1137.7 L474.3 1134.8 L476.7 1132.0 L479.3 1127.2 L483.4 1123.5 L485.8 1122.0 L488.3 1116.4 L489.5 1113.5 L491.6 1108.3 L494.3 1104.9 L498.1 1101.8 L501.5 1099.1 L504.2 1098.1 L506.9 1096.2 L510.8 1092.1 L514.7 1088.5 L517.9 1085.2 L520.7 1081.6 L524.6 1079.5 L526.5 1085.1 L528.6 1090.0 L532.5 1091.7 L536.5 1087.8 L538.8 1085.9 L541.6 1082.9 L544.1 1081.4 L547.3 1080.8 L552.6 1080.7 L555.7 1079.5 L558.5 1076.9 L561.2 1075.2 L565.1 1072.1 L568.0 1070.8 L572.9 1068.4 L575.9 1066.3 L579.4 1064.9 L582.6 1063.2 L587.8 1060.8 L590.6 1058.7 L593.7 1057.7 L597.7 1055.0 L601.5 1052.7 L606.0 1051.2 L611.5 1050.1 L616.7 1049.3 L621.8 1047.4 L624.6 1045.7 L629.5 1043.2 L635.0 1043.1 L640.7 1044.0 L645.6 1043.2 L649.1 1041.3 L652.2 1038.6 L655.9 1037.2 L660.2 1038.9 L665.0 1039.3 L669.7 1035.8 L672.8 1032.9 L676.5 1030.6 L680.0 1032.1 L684.4 1035.1 L689.5 1036.0 L695.0 1035.2 L699.6 1033.9 L704.9 1034.1 L709.8 1034.2 L714.3 1033.9 L717.5 1031.9 L721.8 1029.6 L727.1 1027.4 L731.8 1030.4 L736.1 1033.4 L739.6 1032.4 L744.8 1030.5 L748.4 1032.4 L754.2 1032.3 L758.3 1031.7 L763.1 1030.1 L768.1 1028.2 L771.9 1027.6 L776.8 1028.7 L780.5 1030.3 L785.4 1030.2 L790.3 1030.2 L795.4 1029.8 L797.5 1030.0" fill="none" stroke="#7030A0" stroke-width="4.2" stroke-linejoin="round" stroke-linecap="round"/>
<path d="M188.4 1212.4 L192.9 1211.7 L196.1 1211.8 L199.6 1211.3 L204.1 1211.7 L208.9 1209.7 L213.8 1207.9 L217.1 1207.2 L221.3 1206.9 L225.7 1206.4 L229.0 1206.2 L233.1 1205.4 L236.2 1204.8 L240.0 1204.4 L245.3 1204.0 L249.2 1203.2 L252.8 1203.8 L256.3 1202.9 L260.9 1201.8 L264.5 1200.7 L267.9 1201.2 L272.1 1200.8 L276.8 1200.1 L280.1 1199.6 L285.5 1199.1 L291.2 1198.6 L296.3 1197.6 L301.5 1196.7 L305.4 1195.9 L308.8 1194.7 L314.0 1194.1 L318.2 1194.7 L321.9 1194.3 L325.6 1194.0 L329.6 1193.0 L333.8 1191.8 L337.0 1190.8 L342.3 1189.8 L345.6 1189.7 L349.0 1189.5 L354.1 1188.9 L357.5 1189.1 L361.1 1188.4 L365.2 1187.0 L368.1 1185.5 L372.0 1184.0 L376.4 1181.6 L380.0 1181.2 L384.5 1180.3 L390.3 1180.5 L393.5 1179.4 L397.4 1176.4 L400.6 1175.4 L404.3 1174.1 L407.8 1173.4 L411.3 1170.6 L414.3 1168.7 L418.1 1167.3 L422.6 1165.4 L425.2 1163.8 L428.6 1160.1 L431.2 1158.7 L435.1 1155.9 L439.3 1156.9 L442.7 1153.5 L445.2 1150.1 L447.9 1145.6 L451.3 1142.3 L455.0 1138.6 L458.2 1136.0 L461.1 1133.2 L465.5 1132.2 L468.8 1131.3 L471.5 1129.9 L474.0 1127.1 L478.0 1124.2 L483.1 1121.6 L487.4 1118.7 L491.6 1115.1 L493.4 1111.3 L496.4 1106.6 L501.7 1104.4 L505.3 1103.4 L508.5 1101.7 L511.8 1098.1 L515.9 1094.2 L519.0 1091.4 L523.4 1088.8 L527.4 1087.8 L532.1 1085.1 L536.0 1082.5 L539.6 1080.3 L543.9 1077.3 L547.6 1076.7 L553.3 1076.8 L556.6 1075.9 L560.7 1074.0 L563.6 1071.7 L566.6 1070.2 L570.2 1067.4 L574.2 1063.9 L578.8 1061.2 L582.4 1059.8 L586.5 1057.7 L591.7 1055.7 L594.4 1054.2 L597.4 1052.4 L601.6 1048.3 L605.7 1046.6 L610.8 1045.1 L615.3 1043.8 L618.5 1042.5 L622.8 1040.5 L627.9 1038.6 L631.3 1036.2 L636.1 1033.9 L639.1 1032.0 L642.5 1029.8 L646.3 1031.4 L650.7 1030.2 L654.8 1027.6 L658.4 1025.2 L663.5 1023.0 L667.8 1024.1 L672.6 1024.4 L675.7 1022.8 L680.2 1019.4 L684.5 1019.6 L688.2 1019.3 L693.7 1018.7 L696.5 1016.0 L700.0 1013.9 L705.2 1013.2 L709.0 1013.5 L712.8 1013.4 L716.3 1013.2 L720.4 1011.7 L725.0 1011.3 L729.5 1009.3 L734.4 1008.2 L738.0 1008.2 L741.1 1008.9 L744.6 1009.4 L750.4 1010.2 L755.7 1009.1 L760.4 1007.9 L766.0 1006.1 L771.1 1005.2 L774.9 1005.8 L779.3 1007.7 L784.6 1008.6 L788.3 1007.7 L792.8 1007.7 L796.6 1006.3 L797.5 1006.6" fill="none" stroke="#ED7D31" stroke-width="4.2" stroke-linejoin="round" stroke-linecap="round"/>
<path d="M188.4 1103.5 L192.5 1101.4 L197.3 1099.6 L200.2 1101.7 L204.6 1102.2 L207.3 1099.5 L212.4 1099.0 L215.1 1100.5 L219.2 1099.4 L222.9 1097.3 L226.4 1095.6 L229.7 1096.3 L232.9 1098.0 L237.5 1096.2 L242.6 1095.9 L246.6 1096.4 L250.3 1096.9 L254.8 1094.8 L258.1 1094.3 L262.1 1093.0 L265.8 1093.2 L270.2 1093.6 L273.9 1090.7 L278.7 1090.1 L283.9 1089.8 L287.3 1090.2 L291.9 1088.6 L295.3 1087.9 L298.6 1086.9 L302.3 1085.8 L306.6 1085.6 L311.7 1084.7 L316.8 1085.0 L320.7 1085.5 L325.7 1085.1 L331.2 1083.6 L335.1 1083.2 L338.9 1081.9 L342.6 1081.9 L347.8 1080.7 L352.6 1077.7 L356.4 1078.3 L361.4 1078.5 L365.9 1077.1 L369.0 1076.4 L372.5 1076.0 L377.9 1075.0 L381.6 1074.4 L386.0 1073.8 L389.9 1072.5 L394.0 1070.7 L397.2 1068.7 L401.1 1067.4 L404.4 1065.7 L407.7 1063.6 L411.8 1062.3 L416.1 1064.5 L419.7 1064.1 L423.1 1059.3 L425.3 1056.4 L429.3 1053.6 L432.4 1053.2 L437.8 1051.2 L442.2 1052.1 L445.8 1050.1 L448.3 1046.3 L449.9 1041.6 L451.4 1037.7 L455.4 1035.3 L458.8 1036.4 L461.5 1033.4 L464.2 1031.5 L468.3 1033.3 L471.4 1031.6 L475.2 1028.2 L478.8 1027.4 L482.2 1029.1 L484.9 1026.4 L488.5 1023.3 L492.2 1018.7 L496.2 1014.7 L499.0 1011.8 L502.9 1008.8 L505.6 1006.0 L510.1 1002.4 L514.6 999.7 L517.8 997.5 L521.1 995.3 L523.9 993.0 L527.1 993.9 L530.9 997.0 L533.6 994.5 L536.7 990.7 L540.1 986.5 L544.6 984.6 L549.8 982.8 L553.6 981.3 L558.6 978.9 L562.5 977.8 L566.1 975.8 L568.6 973.3 L572.5 969.4 L576.8 968.2 L581.0 970.6 L584.9 967.8 L587.5 962.5 L591.1 959.0 L594.9 958.4 L599.0 958.0 L602.1 956.1 L605.5 954.2 L608.9 952.0 L613.9 949.9 L617.4 949.3 L622.4 947.8 L627.0 945.6 L632.2 944.2 L636.1 942.1 L640.9 940.2 L646.2 938.7 L650.3 938.9 L653.7 938.7 L656.7 938.0 L659.8 935.2 L662.7 934.2 L666.2 934.1 L670.1 935.4 L673.8 930.6 L676.5 927.1 L679.3 923.8 L684.0 922.0 L689.3 923.7 L692.6 924.8 L697.9 924.5 L702.2 923.3 L707.6 922.1 L711.1 920.8 L715.1 920.2 L719.9 917.8 L725.2 915.9 L729.7 915.0 L734.7 915.3 L737.5 917.2 L741.7 920.9 L745.7 920.7 L750.8 920.2 L754.3 919.2 L759.7 916.4 L763.2 914.4 L768.4 911.8 L772.3 911.3 L777.4 910.5 L782.0 910.0 L786.9 909.3 L792.5 911.5 L796.9 912.8 L797.5 912.7" fill="none" stroke="#C00000" stroke-width="4.2" stroke-linejoin="round" stroke-linecap="round"/>
<path d="M188.4 1049.5 L192.2 1047.6 L196.7 1046.5 L202.2 1046.4 L207.4 1047.1 L209.5 1045.0 L213.6 1047.0 L217.9 1046.8 L221.7 1042.7 L224.9 1041.4 L230.1 1039.9 L234.7 1040.5 L238.0 1038.6 L242.4 1038.0 L245.8 1038.1 L249.8 1039.2 L255.0 1038.5 L258.8 1038.4 L262.4 1038.1 L268.0 1037.4 L272.7 1037.7 L277.8 1037.1 L282.8 1035.7 L288.1 1035.2 L291.4 1035.0 L295.7 1033.8 L298.8 1033.3 L303.0 1029.9 L306.6 1027.9 L311.8 1025.1 L316.9 1025.7 L320.3 1027.1 L324.4 1028.4 L328.2 1026.8 L331.6 1025.2 L335.0 1024.1 L339.5 1023.5 L343.9 1024.0 L349.7 1023.7 L355.1 1022.2 L358.7 1021.4 L362.0 1021.7 L364.8 1023.7 L369.8 1020.6 L373.2 1018.4 L376.9 1017.0 L381.1 1016.3 L386.6 1017.4 L389.7 1017.4 L394.1 1014.3 L398.5 1013.1 L402.5 1013.8 L406.2 1014.9 L410.4 1012.6 L414.5 1008.1 L417.7 1006.2 L422.5 1006.8 L426.3 1004.1 L430.2 1000.5 L432.3 1003.7 L434.1 1007.3 L437.8 1003.2 L439.7 1000.2 L441.7 996.0 L444.3 991.1 L447.0 988.0 L450.7 989.5 L453.9 990.4 L456.9 987.2 L459.4 983.8 L463.2 984.2 L468.0 982.2 L471.1 979.6 L476.3 978.8 L480.3 976.1 L482.1 972.9 L484.4 968.3 L486.4 965.0 L489.7 964.7 L493.7 968.0 L499.2 968.1 L504.6 966.2 L509.7 964.1 L512.3 961.8 L514.8 956.6 L516.1 953.9 L518.4 949.0 L520.8 943.2 L522.5 940.5 L524.6 942.1 L525.7 946.2 L526.3 949.8 L527.1 955.0 L528.0 960.4 L528.6 966.3 L529.1 970.3 L529.8 974.7 L533.0 978.1 L535.8 975.3 L538.0 972.7 L541.2 968.4 L544.5 965.8 L547.2 963.8 L551.8 961.4 L556.0 960.4 L560.4 961.3 L564.3 963.5 L568.9 960.9 L572.1 956.7 L574.7 954.4 L579.2 953.1 L584.1 955.2 L587.5 951.6 L590.8 947.8 L593.7 944.0 L597.5 940.4 L603.1 940.5 L608.3 938.6 L611.5 935.8 L614.4 933.9 L618.8 930.8 L624.1 930.6 L628.7 928.3 L632.3 924.5 L635.5 920.8 L640.3 918.7 L644.1 918.9 L647.4 918.2 L652.4 915.9 L656.9 913.7 L661.3 910.3 L664.8 908.1 L667.6 906.2 L670.6 903.9 L673.6 902.8 L677.4 900.5 L680.7 898.7 L685.5 897.2 L689.6 899.7 L693.1 900.1 L696.6 898.0 L701.3 895.5 L706.3 892.2 L710.1 895.1 L714.5 894.8 L717.6 890.3 L721.4 886.2 L724.7 886.2 L728.3 886.3 L731.5 886.0 L736.0 884.9 L739.5 884.0 L743.5 882.4 L748.4 880.3 L752.5 878.7 L757.8 878.2 L760.9 876.8 L764.6 874.7 L769.1 872.0 L774.5 872.9 L777.1 875.9 L779.7 877.5 L783.7 877.2 L786.2 875.2 L789.7 872.4 L793.4 871.7 L797.2 871.3 L797.5 870.9" fill="none" stroke="#000000" stroke-width="4.2" stroke-linejoin="round" stroke-linecap="round"/>
</g>
<rect x="188" y="793" width="609.5" height="591.5" fill="none" stroke="#000" stroke-width="3"/>
<line x1="175.5" y1="1384.5" x2="188" y2="1384.5" stroke="#000" stroke-width="3"/>
<text x="155" y="1397.6" font-family="Liberation Serif, serif" font-weight="bold" font-size="41.5" text-anchor="end">0</text>
<line x1="175.5" y1="1285.9" x2="188" y2="1285.9" stroke="#000" stroke-width="3"/>
<text x="155" y="1299.0" font-family="Liberation Serif, serif" font-weight="bold" font-size="41.5" text-anchor="end">0.5</text>
<line x1="175.5" y1="1187.3" x2="188" y2="1187.3" stroke="#000" stroke-width="3"/>
<text x="155" y="1200.4" font-family="Liberation Serif, serif" font-weight="bold" font-size="41.5" text-anchor="end">1</text>
<line x1="175.5" y1="1088.8" x2="188" y2="1088.8" stroke="#000" stroke-width="3"/>
<text x="155" y="1101.9" font-family="Liberation Serif, serif" font-weight="bold" font-size="41.5" text-anchor="end">1.5</text>
<line x1="175.5" y1="990.2" x2="188" y2="990.2" stroke="#000" stroke-width="3"/>
<text x="155" y="1003.3" font-family="Liberation Serif, serif" font-weight="bold" font-size="41.5" text-anchor="end">2</text>
<line x1="175.5" y1="891.6" x2="188" y2="891.6" stroke="#000" stroke-width="3"/>
<text x="155" y="904.7" font-family="Liberation Serif, serif" font-weight="bold" font-size="41.5" text-anchor="end">2.5</text>
<line x1="175.5" y1="793.0" x2="188" y2="793.0" stroke="#000" stroke-width="3"/>
<text x="155" y="806.1" font-family="Liberation Serif, serif" font-weight="bold" font-size="41.5" text-anchor="end">3</text>
<line x1="188.0" y1="1384.5" x2="188.0" y2="1396.6" stroke="#000" stroke-width="3"/>
<text x="188.5" y="1444.8" font-family="Liberation Serif, serif" font-weight="bold" font-size="41.5" text-anchor="middle">3</text>
<line x1="309.9" y1="1384.5" x2="309.9" y2="1396.6" stroke="#000" stroke-width="3"/>
<text x="310.4" y="1444.8" font-family="Liberation Serif, serif" font-weight="bold" font-size="41.5" text-anchor="middle">3.2</text>
<line x1="431.8" y1="1384.5" x2="431.8" y2="1396.6" stroke="#000" stroke-width="3"/>
<text x="432.3" y="1444.8" font-family="Liberation Serif, serif" font-weight="bold" font-size="41.5" text-anchor="middle">3.4</text>
<line x1="553.7" y1="1384.5" x2="553.7" y2="1396.6" stroke="#000" stroke-width="3"/>
<text x="554.2" y="1444.8" font-family="Liberation Serif, serif" font-weight="bold" font-size="41.5" text-anchor="middle">3.6</text>
<line x1="675.6" y1="1384.5" x2="675.6" y2="1396.6" stroke="#000" stroke-width="3"/>
<text x="676.1" y="1444.8" font-family="Liberation Serif, serif" font-weight="bold" font-size="41.5" text-anchor="middle">3.8</text>
<line x1="797.5" y1="1384.5" x2="797.5" y2="1396.6" stroke="#000" stroke-width="3"/>
<text x="798.0" y="1444.8" font-family="Liberation Serif, serif" font-weight="bold" font-size="41.5" text-anchor="middle">4</text>
<text x="506.4" y="1498.8" font-family="Liberation Serif, serif" font-weight="bold" font-size="40" text-anchor="middle">Band gap energy, eV</text>
<text transform="translate(59.3 1152.2) rotate(-90)" font-family="Liberation Serif, serif" font-weight="bold" font-size="39.2">[F(R)*hv]<tspan font-size="27.8" dy="-12">1/2</tspan></text>
<text x="-1.3" y="813.4" font-family="Liberation Serif, serif" font-weight="bold" font-size="50">(b)</text>
<line x1="459.5" y1="1297.2" x2="318" y2="985" stroke="#000" stroke-width="4.1"/>
<polygon points="311.8,971.5 313.9,997.7 329.3,990" fill="#000"/>
<text x="273.3" y="953.6" font-family="Liberation Serif, serif" font-weight="bold" font-size="42.5">80Ce</text>
<text x="443.3" y="1346.8" font-family="Liberation Serif, serif" font-weight="bold" font-size="41.5">TiO</text>
<text x="513.1" y="1353.2" font-family="Liberation Serif, serif" font-weight="bold" font-size="30">2</text>
<line x1="842.3" y1="860.7" x2="905.7" y2="860.7" stroke="#0070C0" stroke-width="5" stroke-linecap="round"/>
<text x="913.9" y="873.8" font-family="Liberation Serif, serif" font-weight="bold" font-size="40">TiO2</text>
<line x1="842.3" y1="953.9" x2="905.7" y2="953.9" stroke="#548235" stroke-width="5" stroke-linecap="round"/>
<text x="913.9" y="967.0" font-family="Liberation Serif, serif" font-weight="bold" font-size="40">10Ce</text>
<line x1="842.3" y1="1047.1" x2="905.7" y2="1047.1" stroke="#7030A0" stroke-width="5" stroke-linecap="round"/>
<text x="913.9" y="1060.2" font-family="Liberation Serif, serif" font-weight="bold" font-size="40">20Ce</text>
<line x1="842.3" y1="1140.3" x2="905.7" y2="1140.3" stroke="#ED7D31" stroke-width="5" stroke-linecap="round"/>
<text x="913.9" y="1153.4" font-family="Liberation Serif, serif" font-weight="bold" font-size="40">40Ce</text>
<line x1="842.3" y1="1233.5" x2="905.7" y2="1233.5" stroke="#C00000" stroke-width="5" stroke-linecap="round"/>
<text x="913.9" y="1246.6" font-family="Liberation Serif, serif" font-weight="bold" font-size="40">60Ce</text>
<line x1="842.3" y1="1326.7" x2="905.7" y2="1326.7" stroke="#000000" stroke-width="5" stroke-linecap="round"/>
<text x="913.9" y="1339.8" font-family="Liberation Serif, serif" font-weight="bold" font-size="40">80Ce</text>
</g>
<g id="pc">
<rect x="241.2" y="1570" width="614" height="580.2" fill="none" stroke="#000" stroke-width="3.4"/>
<line x1="226.7" y1="2150.2" x2="241.2" y2="2150.2" stroke="#000" stroke-width="3.4"/>
<text x="201.3" y="2167.2" font-family="Liberation Serif, serif" font-size="52" text-anchor="end">2</text>
<line x1="226.7" y1="2057.4" x2="241.2" y2="2057.4" stroke="#000" stroke-width="3.4"/>
<text x="201.3" y="2074.4" font-family="Liberation Serif, serif" font-size="52" text-anchor="end">2.2</text>
<line x1="226.7" y1="1964.5" x2="241.2" y2="1964.5" stroke="#000" stroke-width="3.4"/>
<text x="201.3" y="1981.5" font-family="Liberation Serif, serif" font-size="52" text-anchor="end">2.4</text>
<line x1="226.7" y1="1871.7" x2="241.2" y2="1871.7" stroke="#000" stroke-width="3.4"/>
<text x="201.3" y="1888.7" font-family="Liberation Serif, serif" font-size="52" text-anchor="end">2.6</text>
<line x1="226.7" y1="1778.9" x2="241.2" y2="1778.9" stroke="#000" stroke-width="3.4"/>
<text x="201.3" y="1795.9" font-family="Liberation Serif, serif" font-size="52" text-anchor="end">2.8</text>
<line x1="226.7" y1="1686.0" x2="241.2" y2="1686.0" stroke="#000" stroke-width="3.4"/>
<text x="201.3" y="1703.0" font-family="Liberation Serif, serif" font-size="52" text-anchor="end">3</text>
<line x1="226.7" y1="1593.2" x2="241.2" y2="1593.2" stroke="#000" stroke-width="3.4"/>
<text x="201.3" y="1610.2" font-family="Liberation Serif, serif" font-size="52" text-anchor="end">3.2</text>
<line x1="241.2" y1="2150.2" x2="241.2" y2="2164.7" stroke="#000" stroke-width="3.4"/>
<text x="242.7" y="2225.8" font-family="Liberation Serif, serif" font-size="52" text-anchor="middle">0</text>
<line x1="364.0" y1="2150.2" x2="364.0" y2="2164.7" stroke="#000" stroke-width="3.4"/>
<text x="365.5" y="2225.8" font-family="Liberation Serif, serif" font-size="52" text-anchor="middle">20</text>
<line x1="486.8" y1="2150.2" x2="486.8" y2="2164.7" stroke="#000" stroke-width="3.4"/>
<text x="488.3" y="2225.8" font-family="Liberation Serif, serif" font-size="52" text-anchor="middle">40</text>
<line x1="609.6" y1="2150.2" x2="609.6" y2="2164.7" stroke="#000" stroke-width="3.4"/>
<text x="611.1" y="2225.8" font-family="Liberation Serif, serif" font-size="52" text-anchor="middle">60</text>
<line x1="732.4" y1="2150.2" x2="732.4" y2="2164.7" stroke="#000" stroke-width="3.4"/>
<text x="733.9" y="2225.8" font-family="Liberation Serif, serif" font-size="52" text-anchor="middle">80</text>
<line x1="855.2" y1="2150.2" x2="855.2" y2="2164.7" stroke="#000" stroke-width="3.4"/>
<text x="856.7" y="2225.8" font-family="Liberation Serif, serif" font-size="52" text-anchor="middle">100</text>
<text x="532" y="2311" font-family="Liberation Serif, serif" font-size="49.6" text-anchor="middle">Number of ALD cycles</text>
<text transform="translate(80 1857.5) rotate(-90)" font-family="Liberation Serif, serif" font-size="50" text-anchor="middle">Band gap energy, eV</text>
<text x="24.8" y="1601.6" font-family="Liberation Serif, serif" font-weight="bold" font-size="50">(c)</text>
<path d="M241.2 1583.5 L302.6 1602.0 L364.0 1632.0 L486.8 1743.5 L609.6 1969.3 L732.4 2038.6" fill="none" stroke="#ED7D31" stroke-width="5.3" stroke-linejoin="round" stroke-linecap="round"/>
<polygon points="241.2,1571.3 228.8,1595.7 253.5,1595.7" fill="none" stroke="#E46C0A" stroke-width="4" stroke-linejoin="round"/>
<polygon points="302.6,1589.8 290.2,1614.2 314.9,1614.2" fill="none" stroke="#E46C0A" stroke-width="4" stroke-linejoin="round"/>
<polygon points="364.0,1619.8 351.6,1644.2 376.4,1644.2" fill="none" stroke="#E46C0A" stroke-width="4" stroke-linejoin="round"/>
<polygon points="486.8,1731.3 474.4,1755.7 499.1,1755.7" fill="none" stroke="#E46C0A" stroke-width="4" stroke-linejoin="round"/>
<polygon points="609.6,1957.1 597.2,1981.5 621.9,1981.5" fill="none" stroke="#E46C0A" stroke-width="4" stroke-linejoin="round"/>
<polygon points="732.4,2026.4 720.0,2050.8 744.8,2050.8" fill="none" stroke="#E46C0A" stroke-width="4" stroke-linejoin="round"/>
</g>
</svg>
</body></html>
